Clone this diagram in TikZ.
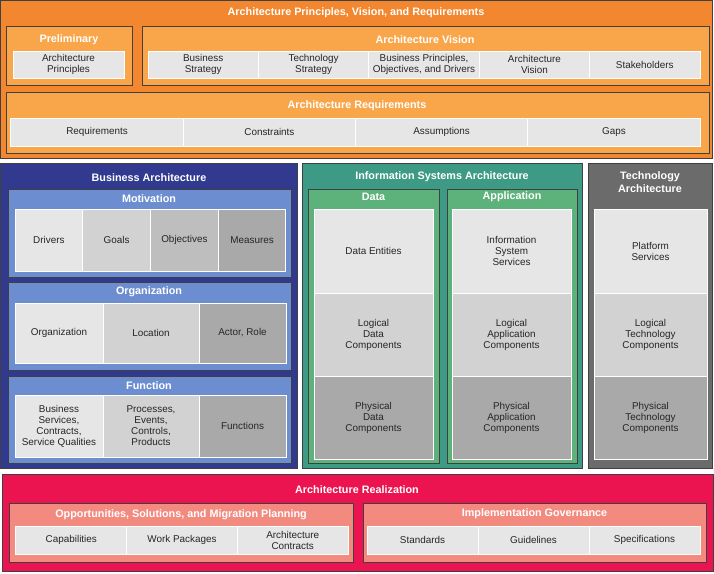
\documentclass[tikz,border=0pt]{standalone}
\usepackage{fontspec}
\setmainfont{Liberation Sans}
\definecolor{orangeOuter}{HTML}{F2872F}
\definecolor{orangeInner}{HTML}{F9A64B}
\definecolor{navyOuter}{HTML}{313A8F}
\definecolor{blueInner}{HTML}{6C8ED1}
\definecolor{tealOuter}{HTML}{3D9A85}
\definecolor{greenInner}{HTML}{5DB17B}
\definecolor{techGrey}{HTML}{6B6B6B}
\definecolor{crimsonOuter}{HTML}{EC1450}
\definecolor{salmonInner}{HTML}{F28A80}
\definecolor{boxline}{HTML}{404040}
\definecolor{cellA}{HTML}{E6E6E6}
\definecolor{cellB}{HTML}{D2D2D2}
\definecolor{cellC}{HTML}{BEBEBE}
\definecolor{cellD}{HTML}{A9A9A9}
\definecolor{cellText}{HTML}{262626}
\tikzset{
  box/.style={draw=boxline, line width=0.9pt},
  cell/.style={draw=white, line width=1pt, inner sep=1pt, align=center, text=cellText, font=\fontsize{9.9}{11}\selectfont},
  heading/.style={text=white, align=center, font=\bfseries\fontsize{10.8}{13}\selectfont},
}
\begin{document}
\begin{tikzpicture}[x=1pt, y=-1pt]
		\useasboundingbox (0,0) rectangle (714,573);
		%% Top band: principles, vision and requirements
		\draw[box, fill=orangeOuter] (0,0) rectangle (712,158);
		\node[heading] (apvr) at (356,13) {Architecture Principles, Vision, and Requirements};
		\draw[box, fill=orangeInner] (6,26) rectangle (132,85);
		\node[heading] (prelim) at (69,40) {Preliminary};
		\node[cell, fill=cellA, minimum width=111, minimum height=27] (archprin) at (68.5,64.5) {Architecture\\Principles};
		\draw[box, fill=orangeInner] (142,26) rectangle (709,85);
		\node[heading] (archvis) at (425,40) {Architecture Vision};
		\node[cell, fill=cellA, minimum width=110.4, minimum height=27] (busstrat) at (203.2,64.5) {Business\\Strategy};
		\node[cell, fill=cellA, minimum width=110.4, minimum height=27] (techstrat) at (313.6,64.5) {Technology\\Strategy};
		\node[cell, fill=cellA, minimum width=110.4, minimum height=27] (busprin) at (424,64.5) {Business Principles,\\Objectives, and Drivers};
		\node[cell, fill=cellA, minimum width=110.4, minimum height=27] (visioncell) at (534.4,64.5) {Architecture\\Vision};
		\node[cell, fill=cellA, minimum width=110.4, minimum height=27] (stake) at (644.8,64.5) {Stakeholders};
		\draw[box, fill=orangeInner] (6,92) rectangle (709,153);
		\node[heading] (archreq) at (357,106) {Architecture Requirements};
		\node[cell, fill=cellA, minimum width=172.25, minimum height=28] (reqs) at (97.1,132) {Requirements};
		\node[cell, fill=cellA, minimum width=172.25, minimum height=28] (constr) at (269.4,132) {Constraints};
		\node[cell, fill=cellA, minimum width=172.25, minimum height=28] (assum) at (441.6,132) {Assumptions};
		\node[cell, fill=cellA, minimum width=172.25, minimum height=28] (gaps) at (613.9,132) {Gaps};
		%% Business architecture column
		\draw[box, fill=navyOuter] (0,163) rectangle (297,468);
		\node[heading] (busarch) at (149,178) {Business Architecture};
		\draw[box, fill=blueInner] (8,189) rectangle (291,277);
		\node[heading] (motiv) at (149,199) {Motivation};
		\node[cell, fill=cellA, minimum width=67.75, minimum height=62] (drivers) at (48.9,240) {Drivers};
		\node[cell, fill=cellB, minimum width=67.75, minimum height=62] (goals) at (116.6,240) {Goals};
		\node[cell, fill=cellC, minimum width=67.75, minimum height=62] (objs) at (184.4,240) {Objectives};
		\node[cell, fill=cellD, minimum width=67.75, minimum height=62] (measures) at (252.1,240) {Measures};
		\draw[box, fill=blueInner] (8,282) rectangle (291,370);
		\node[heading] (orgtitle) at (149,292) {Organization};
		\node[cell, fill=cellA, minimum width=88, minimum height=60] (org) at (59,333) {Organization};
		\node[cell, fill=cellB, minimum width=96, minimum height=60] (loc) at (151,333) {Location};
		\node[cell, fill=cellD, minimum width=87, minimum height=60] (actor) at (242.5,333) {Actor, Role};
		\draw[box, fill=blueInner] (8,376) rectangle (291,463);
		\node[heading] (functitle) at (149,386) {Function};
		\node[cell, fill=cellA, minimum width=88, minimum height=62] (bussvc) at (59,426) {Business\\Services,\\Contracts,\\Service Qualities};
		\node[cell, fill=cellB, minimum width=96, minimum height=62] (procs) at (151,426) {Processes,\\Events,\\Controls,\\Products};
		\node[cell, fill=cellD, minimum width=87, minimum height=62] (funcs) at (242.5,426) {Functions};
		%% Information systems architecture column
		\draw[box, fill=tealOuter] (302,163) rectangle (582,468);
		\node[heading] (isarch) at (442,177) {Information Systems Architecture};
		\draw[box, fill=greenInner] (308,189) rectangle (439,463);
		\node[heading] (datatitle) at (373.5,197) {Data};
		\node[cell, fill=cellA, minimum width=119, minimum height=84] (dataent) at (373.5,251) {Data Entities};
		\node[cell, fill=cellB, minimum width=119, minimum height=83] (logdata) at (373.5,334.5) {Logical\\Data\\Components};
		\node[cell, fill=cellD, minimum width=119, minimum height=83] (physdata) at (373.5,417.5) {Physical\\Data\\Components};
		\draw[box, fill=greenInner] (447,189) rectangle (577,463);
		\node[heading] (apptitle) at (512,197) {Application};
		\node[cell, fill=cellA, minimum width=119, minimum height=84] (issvc) at (511.5,251) {Information\\System\\Services};
		\node[cell, fill=cellB, minimum width=119, minimum height=83] (logapp) at (511.5,334.5) {Logical\\Application\\Components};
		\node[cell, fill=cellD, minimum width=119, minimum height=83] (physapp) at (511.5,417.5) {Physical\\Application\\Components};
		%% Technology architecture column
		\draw[box, fill=techGrey] (588,163) rectangle (712,468);
		\node[heading] (techarch) at (650,182.5) {Technology\\Architecture};
		\node[cell, fill=cellA, minimum width=113, minimum height=84] (platsvc) at (650.5,251) {Platform\\Services};
		\node[cell, fill=cellB, minimum width=113, minimum height=83] (logtech) at (650.5,334.5) {Logical\\Technology\\Components};
		\node[cell, fill=cellD, minimum width=113, minimum height=83] (phystech) at (650.5,417.5) {Physical\\Technology\\Components};
		%% Bottom band: realization
		\draw[box, fill=crimsonOuter] (2,474) rectangle (713,571);
		\node[heading] (archreal) at (357,490) {Architecture Realization};
		\draw[box, fill=salmonInner] (9,503) rectangle (353,562);
		\node[heading] (oppmig) at (181,515) {Opportunities, Solutions, and Migration Planning};
		\node[cell, fill=cellA, minimum width=110.7, minimum height=28] (capab) at (71.3,540) {Capabilities};
		\node[cell, fill=cellA, minimum width=110.7, minimum height=28] (workpk) at (182,540) {Work Packages};
		\node[cell, fill=cellA, minimum width=110.7, minimum height=28] (archcon) at (292.7,540) {Architecture\\Contracts};
		\draw[box, fill=salmonInner] (363,503) rectangle (706,562);
		\node[heading] (implgov) at (534.5,514) {Implementation Governance};
		\node[cell, fill=cellA, minimum width=111, minimum height=28] (stds) at (422.5,540) {Standards};
		\node[cell, fill=cellA, minimum width=111, minimum height=28] (guide) at (533.5,540) {Guidelines};
		\node[cell, fill=cellA, minimum width=111, minimum height=28] (specs) at (644.5,540) {Specifications};
	\end{tikzpicture}
\end{document}
